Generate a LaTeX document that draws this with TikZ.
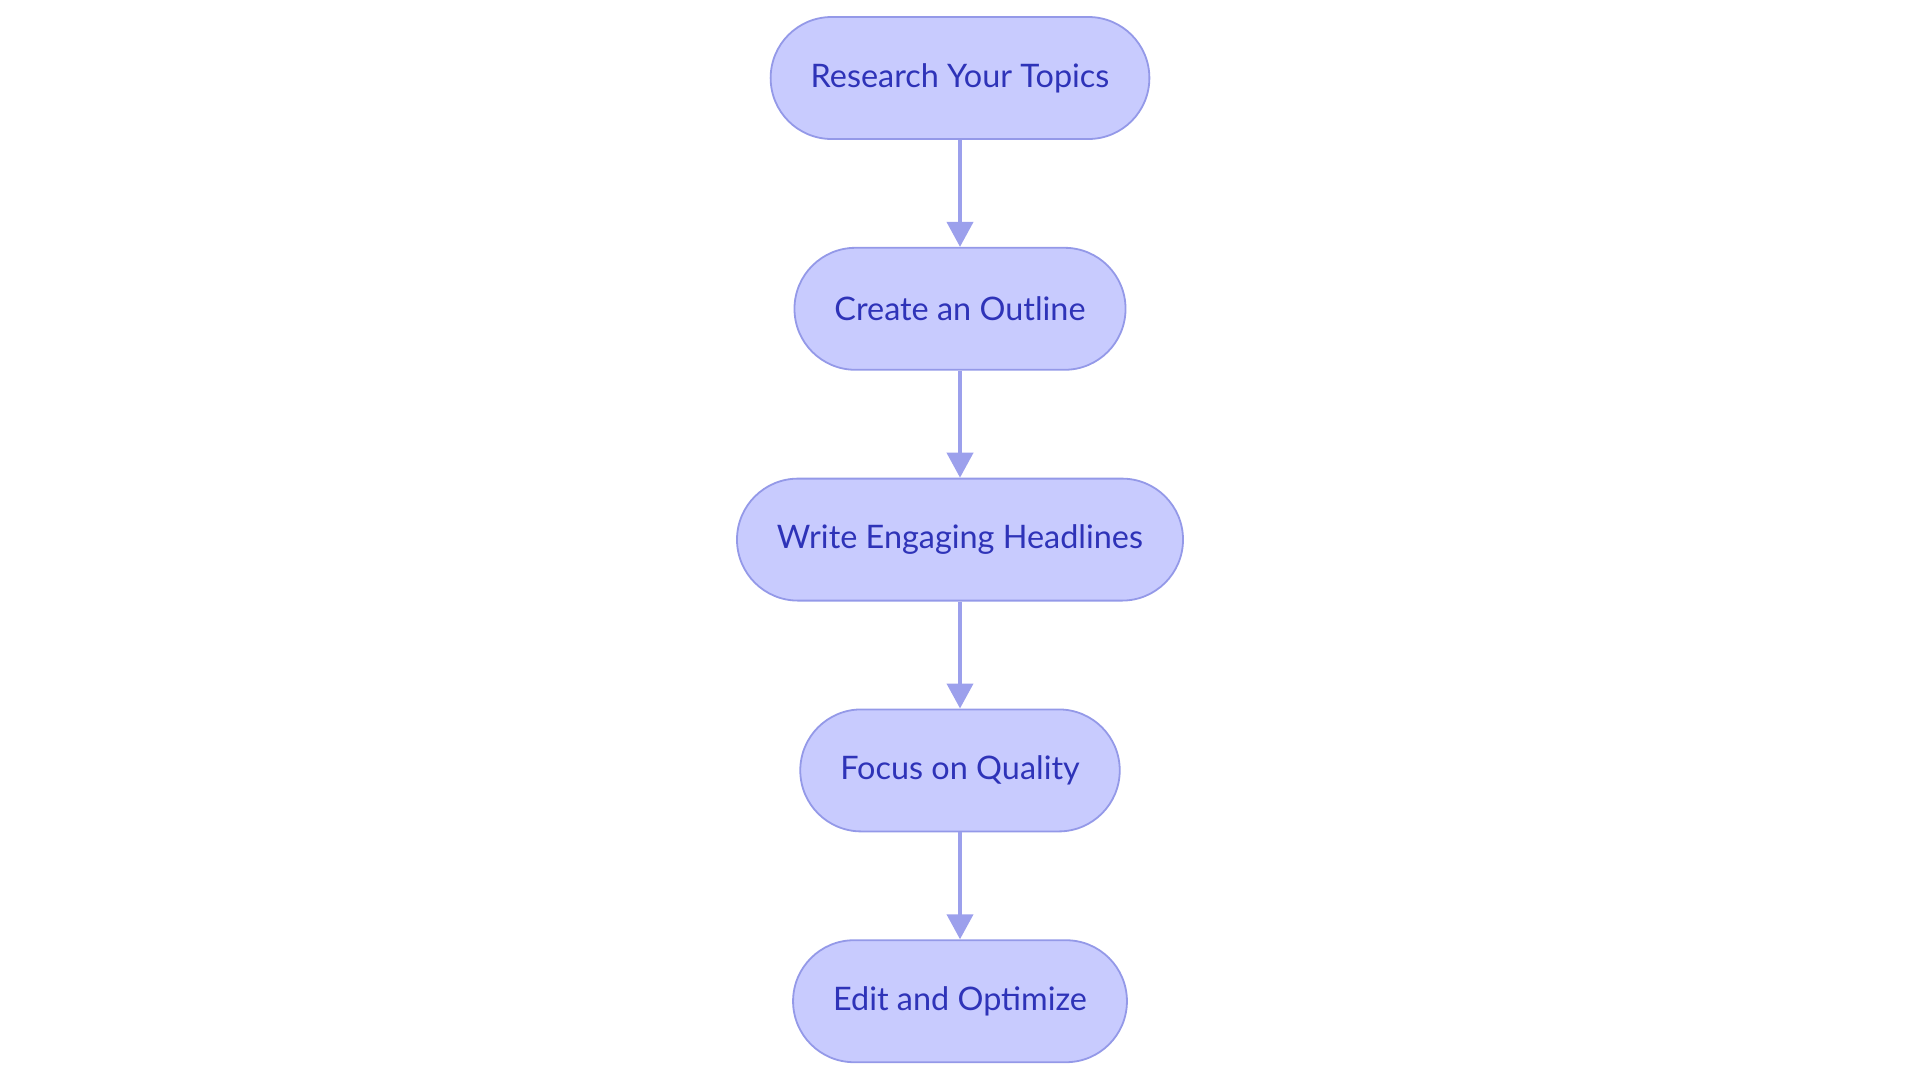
\documentclass[tikz,border=0pt]{standalone}
\usepackage{fontspec}
\setmainfont{Lato}
\usetikzlibrary{positioning,arrows.meta}
\definecolor{stepfill}{HTML}{C8CBFE}
\definecolor{stepline}{HTML}{9499E8}
\definecolor{steptext}{HTML}{2E33B8}
\definecolor{flowline}{HTML}{9CA0EC}
\begin{document}
\begin{tikzpicture}[
  s/.style={draw=stepline,fill=stepfill,line width=0.9pt,rounded corners=30.5pt,
    minimum height=61pt,inner xsep=20pt,text=steptext,font=\fontsize{16.2}{20}\selectfont},
  a/.style={draw=flowline,line width=2pt,-{Triangle[length=12.5pt,width=13pt]}},
  node distance=53.5pt]
  \useasboundingbox (0,0) rectangle (960pt,-541.5pt);
  % steps, top to bottom
  \node[s] (research) at (480pt,-39pt) {Research Your Topics};
  \node[s,below=of research] (outline) {Create an Outline};
  \node[s,below=of outline] (headlines) {Write Engaging Headlines};
  \node[s,below=of headlines] (quality) {Focus on Quality};
  \node[s,below=of quality] (optimize) {Edit and Optimize};
  % arrows
  \draw[a] (research)--(outline);
  \draw[a] (outline)--(headlines);
  \draw[a] (headlines)--(quality);
  \draw[a] (quality)--(optimize);
\end{tikzpicture}
\end{document}
